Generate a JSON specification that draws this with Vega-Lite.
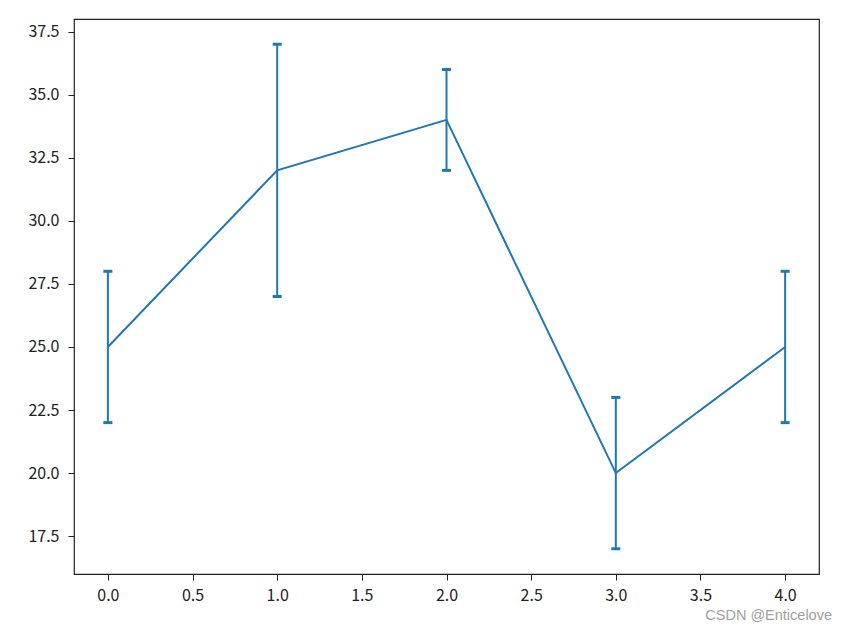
{
  "$schema": "https://vega.github.io/schema/vega-lite/v6.json",
  "width": 745,
  "height": 555,
  "autosize": {"type": "none"},
  "padding": {"left": 74, "top": 19, "right": 28, "bottom": 57},
  "background": "white",
  "title": {
    "text": "CSDN @Enticelove",
    "orient": "bottom",
    "anchor": "end",
    "font": "Liberation Sans",
    "fontSize": 14.5,
    "fontWeight": "normal",
    "color": "#a0a0a0",
    "offset": 6,
    "dx": 13
  },
  "data": {
    "values": [
      {"x": 0, "y": 25, "lo": 22, "hi": 28},
      {"x": 1, "y": 32, "lo": 27, "hi": 37},
      {"x": 2, "y": 34, "lo": 32, "hi": 36},
      {"x": 3, "y": 20, "lo": 17, "hi": 23},
      {"x": 4, "y": 25, "lo": 22, "hi": 28}
    ]
  },
  "encoding": {
    "x": {
      "field": "x",
      "type": "quantitative",
      "scale": {"domain": [-0.2, 4.2], "nice": false, "zero": false},
      "axis": {"values": [0, 0.5, 1, 1.5, 2, 2.5, 3, 3.5, 4], "format": ".1f", "title": null, "labelPadding": 7}
    }
  },
  "layer": [
    {
      "mark": {"type": "rule", "color": "#1f77b4", "strokeWidth": 2},
      "encoding": {
        "y": {"field": "lo", "type": "quantitative"},
        "y2": {"field": "hi"}
      }
    },
    {
      "mark": {"type": "tick", "orient": "horizontal", "color": "#1f77b4", "size": 9, "thickness": 3, "opacity": 1},
      "encoding": {"y": {"field": "lo", "type": "quantitative"}}
    },
    {
      "mark": {"type": "tick", "orient": "horizontal", "color": "#1f77b4", "size": 9, "thickness": 3, "opacity": 1},
      "encoding": {"y": {"field": "hi", "type": "quantitative"}}
    },
    {
      "mark": {"type": "line", "color": "#1f77b4", "strokeWidth": 2},
      "encoding": {
        "y": {
          "field": "y",
          "type": "quantitative",
          "scale": {"domain": [16, 38], "nice": false, "zero": false},
          "axis": {"values": [17.5, 20, 22.5, 25, 27.5, 30, 32.5, 35, 37.5], "format": ".1f", "title": null, "labelPadding": 9}
        }
      }
    }
  ],
  "config": {
    "view": {"stroke": "#222222", "strokeWidth": 1.2},
    "axis": {
      "grid": false,
      "domain": false,
      "tickColor": "#222222",
      "tickSize": 6,
      "tickWidth": 1,
      "labelFont": "Noto Sans CJK SC",
      "labelFontSize": 16,
      "labelColor": "#222222"
    }
  }
}
